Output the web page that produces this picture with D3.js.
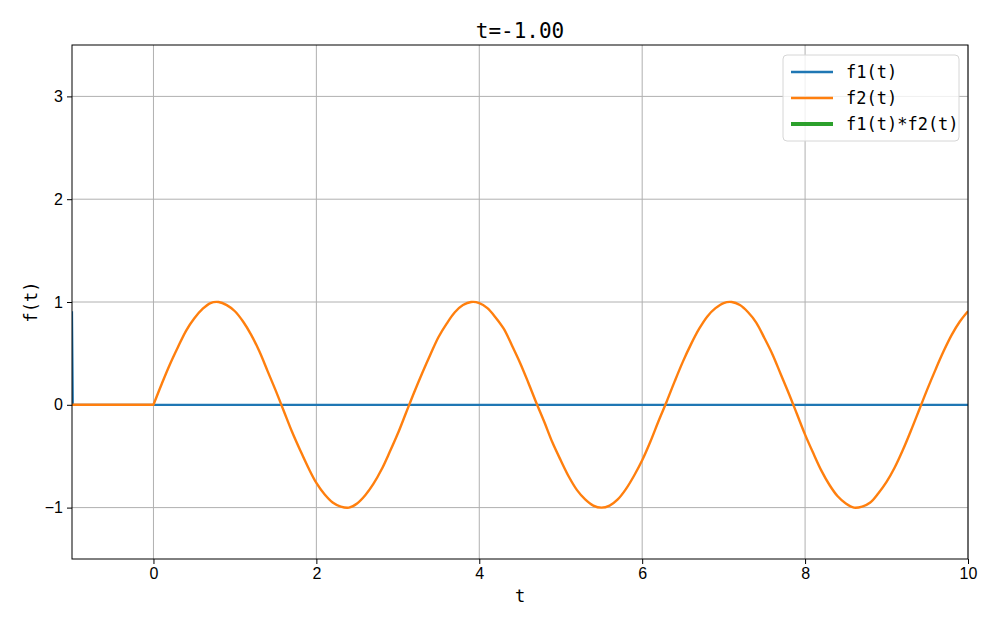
<!DOCTYPE html>
<html>
<head>
<meta charset="utf-8">
<script src="https://cdn.jsdelivr.net/npm/d3@7"></script>
<style>
  body { margin: 0; background: #fff; }
  svg { display: block; }
</style>
</head>
<body>
<svg id="chart"></svg>
<script>
// valeurs (pas de 0.1 pour f2)
const titleText = 't=-1.00';
const f2T = [-1, -0.5];
const f2Vals = [0, 0];
const f2Samples = [0.00, 0.20, 0.39, 0.56, 0.72, 0.84, 0.93, 0.99, 1.00, 0.97,
  0.91, 0.81, 0.68, 0.52, 0.33, 0.14, -0.06, -0.26, -0.44, -0.61,
  -0.76, -0.87, -0.95, -0.99, -1.00, -0.96, -0.88, -0.77, -0.63, -0.46,
  -0.28, -0.08, 0.12, 0.31, 0.49, 0.66, 0.79, 0.90, 0.97, 1.00,
  0.99, 0.94, 0.85, 0.74, 0.58, 0.41, 0.22, 0.02, -0.17, -0.37,
  -0.54, -0.70, -0.83, -0.92, -0.98, -1.00, -0.98, -0.92, -0.82, -0.69,
  -0.54, -0.36, -0.16, 0.03, 0.23, 0.42, 0.59, 0.74, 0.86, 0.94,
  0.99, 1.00, 0.97, 0.90, 0.80, 0.65, 0.49, 0.30, 0.11, -0.09,
  -0.29, -0.47, -0.64, -0.78, -0.89, -0.96, -1.00, -0.99, -0.95, -0.86,
  -0.75, -0.61, -0.44, -0.25, -0.05, 0.15, 0.34, 0.52, 0.68, 0.81, 0.91];
f2Samples.forEach((v, i) => { f2T.push(+(i * 0.1).toFixed(1)); f2Vals.push(v); });

const f1T = [-1, -0.99, 10];
const f1Vals = [0.91, 0, 0];
const prodT = [];
const prodVals = [];

const xTicks = [0, 2, 4, 6, 8, 10];
const yTicks = [-1, 0, 1, 2, 3];
const legendLabels = ['f1(t)', 'f2(t)', 'f1(t)*f2(t)'];
const colors = ['#1f77b4', '#ff7f0e', '#2ca02c'];

const width = 1000, height = 625;
const margin = { left: 72, right: 32, top: 45, bottom: 66 };
const monoFont = '"DejaVu Sans Mono", monospace';

const svg = d3.select('#chart').attr('width', width).attr('height', height);

const x = d3.scaleLinear().domain([-1, 10]).range([margin.left, width - margin.right]);
const y = d3.scaleLinear().domain([-1.5, 3.5]).range([height - margin.bottom, margin.top]);

// grille
svg.append('g').selectAll('line').data(xTicks).enter().append('line')
  .attr('x1', d => x(d)).attr('x2', d => x(d))
  .attr('y1', y(-1.5)).attr('y2', y(3.5))
  .attr('stroke', '#b0b0b0').attr('stroke-width', 1);
svg.append('g').selectAll('line').data(yTicks).enter().append('line')
  .attr('x1', x(-1)).attr('x2', x(10))
  .attr('y1', d => y(d)).attr('y2', d => y(d))
  .attr('stroke', '#b0b0b0').attr('stroke-width', 1);

svg.append('clipPath').attr('id', 'clip').append('rect')
  .attr('x', x(-1)).attr('y', y(3.5))
  .attr('width', x(10) - x(-1)).attr('height', y(-1.5) - y(3.5));

const plotArea = svg.append('g').attr('clip-path', 'url(#clip)');

const linear = d3.line().x(d => x(d[0])).y(d => y(d[1]));
const smooth = d3.line().x(d => x(d[0])).y(d => y(d[1])).curve(d3.curveCatmullRom.alpha(0.5));
const series = [
  { t: f1T, v: f1Vals, w: 2.2 },
  { t: f2T, v: f2Vals, w: 2.4, curve: true },
  { t: prodT, v: prodVals, w: 3 }
];
series.forEach((s, i) => {
  const pts = s.t.map((t, j) => [t, s.v[j]]);
  if (!pts.length) return;
  let d;
  if (s.curve) {
    // partie plate avant 0 en ligne droite, le reste lissé
    d = linear(pts.filter(p => p[0] <= 0)) + smooth(pts.filter(p => p[0] >= 0)).replace(/^M/, 'L');
  } else {
    d = linear(pts);
  }
  plotArea.append('path')
    .attr('d', d)
    .attr('fill', 'none')
    .attr('stroke', colors[i])
    .attr('stroke-width', s.w)
    .attr('stroke-linejoin', 'round');
});

// axes
const xAxis = svg.append('g')
  .attr('transform', `translate(0,${y(-1.5)})`)
  .call(d3.axisBottom(x).tickValues(xTicks).tickSize(5).tickPadding(4).tickFormat(d3.format('d')));
const yAxis = svg.append('g')
  .attr('transform', `translate(${x(-1)},0)`)
  .call(d3.axisLeft(y).tickValues(yTicks).tickSize(5).tickPadding(4)
    .tickFormat(d => d < 0 ? '\u2212' + Math.abs(d) : d));
[xAxis, yAxis].forEach(a => {
  a.select('.domain').remove();
  a.selectAll('.tick line').attr('stroke', '#000').attr('stroke-width', 1);
  a.selectAll('.tick text').attr('fill', '#000')
    .style('font-family', '"Liberation Sans", Arial, sans-serif').style('font-size', '16px');
});

// cadre
svg.append('rect')
  .attr('x', x(-1)).attr('y', y(3.5))
  .attr('width', x(10) - x(-1)).attr('height', y(-1.5) - y(3.5))
  .attr('fill', 'none').attr('stroke', '#000').attr('stroke-width', 1);

// titres
svg.append('text').attr('x', (x(-1) + x(10)) / 2).attr('y', 38)
  .attr('text-anchor', 'middle').style('font-family', monoFont).style('font-size', '21px')
  .text(titleText);
svg.append('text').attr('x', (x(-1) + x(10)) / 2).attr('y', 602)
  .attr('text-anchor', 'middle').style('font-family', monoFont).style('font-size', '17px')
  .text('t');
svg.append('text')
  .attr('transform', `translate(37,${(y(-1.5) + y(3.5)) / 2}) rotate(-90)`)
  .attr('text-anchor', 'middle').style('font-family', monoFont).style('font-size', '17px')
  .text('f(t)');

// légende
const lg = svg.append('g').attr('transform', 'translate(783,55)');
lg.append('rect').attr('width', 176).attr('height', 86).attr('rx', 4)
  .attr('fill', '#fff').attr('fill-opacity', 0.8).attr('stroke', '#d6d6d6');
legendLabels.forEach((lab, i) => {
  const yy = 17 + i * 26;
  lg.append('line').attr('x1', 8).attr('x2', 50).attr('y1', yy).attr('y2', yy)
    .attr('stroke', colors[i]).attr('stroke-width', i === 2 ? 4 : 2.5);
  lg.append('text').attr('x', 63).attr('y', yy + 6)
    .style('font-family', monoFont).style('font-size', '17px').text(lab);
});
</script>
</body>
</html>
